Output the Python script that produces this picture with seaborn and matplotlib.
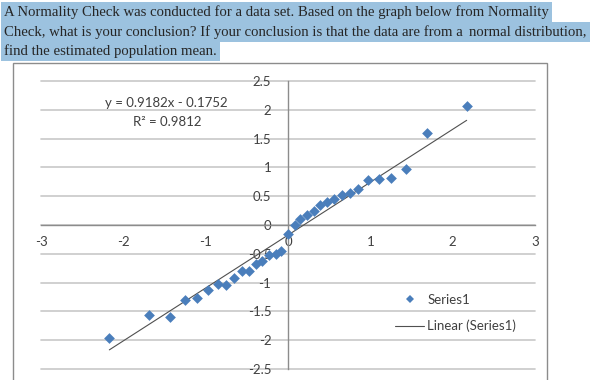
import numpy as np
import matplotlib
matplotlib.use("Agg")
import matplotlib.pyplot as plt
import seaborn as sns
from matplotlib.lines import Line2D
from matplotlib.patches import Rectangle

# normal scores (x) and standardised data (y)
z_scores = [-2.17, -1.69, -1.43, -1.25, -1.10, -0.97, -0.85, -0.75, -0.65, -0.56,
            -0.47, -0.39, -0.31, -0.23, -0.15, -0.08, 0.00,
            0.08, 0.15, 0.23, 0.31, 0.39, 0.47, 0.56, 0.65, 0.75, 0.85,
            0.97, 1.10, 1.25, 1.43, 1.69, 2.17]
values = [-1.97, -1.57, -1.59, -1.31, -1.27, -1.13, -1.03, -1.05, -0.92, -0.80,
          -0.80, -0.68, -0.63, -0.52, -0.50, -0.45, -0.15,
          0.00, 0.10, 0.17, 0.24, 0.35, 0.40, 0.46, 0.52, 0.56, 0.63,
          0.78, 0.80, 0.82, 0.98, 1.59, 2.07]
slope = 0.9182
intercept = -0.1752
r_squared = 0.9812
x_ticks = [-3, -2, -1, 0, 1, 2, 3]
y_ticks = [-2.5, -2, -1.5, -1, -0.5, 0, 0.5, 1, 1.5, 2, 2.5]

question = ["A Normality Check was conducted for a data set. Based on the graph below from Normality",
            "Check, what is your conclusion? If your conclusion is that the data are from a",
            "normal distribution,",
            "find the estimated population mean."]

sns.set_style("white")
plt.rcParams["font.family"] = ["Lato", "DejaVu Sans"]

blue = "#4a7ebb"
hl = "#9cc2df"
txt_grey = "#404040"

fig = plt.figure(figsize=(5.94, 3.80), dpi=100)
fy = lambda py: 1 - py / 380

# chart frame
fig.patches.append(Rectangle((13 / 594, -0.1), (547 - 13) / 594, fy(63) + 0.1,
                             transform=fig.transFigure, facecolor="none",
                             edgecolor="#8c8c8c", linewidth=1.0))

ax = fig.add_axes([41 / 594, 11 / 380, 494 / 594, 288 / 380])
ax.set_xlim(-3, 3)
ax.set_ylim(-2.5, 2.5)

# question text with highlight
serif = ["Liberation Serif", "DejaVu Serif"]
hbox = dict(facecolor=hl, edgecolor="none", pad=2.4)
fig.text(4 / 594, fy(12), question[0], family=serif, fontsize=10.6, va="center", bbox=hbox)
t2 = fig.text(4 / 594, fy(32), question[1], family=serif, fontsize=10.6, va="center", bbox=hbox)
fig.text(4 / 594, fy(51), question[3], family=serif, fontsize=10.6, va="center", bbox=hbox)
ax.annotate(question[2], xy=(1, 0.5), xycoords=t2, xytext=(4.6, 0), textcoords="offset points",
            family=serif, fontsize=10.6, va="center", ha="left", bbox=hbox,
            annotation_clip=False)

for yv in y_ticks:
    ax.axhline(yv, color="#c8c8c8", linewidth=1.2, zorder=0, clip_on=False)

xs = np.array([min(z_scores), max(z_scores)])
sns.lineplot(x=xs, y=slope * xs + intercept, ax=ax, color="#505050", linewidth=0.8,
             zorder=3, label="Linear (Series1)")
sns.scatterplot(x=z_scores, y=values, ax=ax, marker="D", s=30, color=blue,
                linewidth=0, zorder=4, label="Series1")

for s in ["top", "right"]:
    ax.spines[s].set_visible(False)
ax.spines["left"].set_position(("data", 0))
ax.spines["bottom"].set_position(("data", 0))
for s in ["left", "bottom"]:
    ax.spines[s].set_color("#8c8c8c")
    ax.spines[s].set_linewidth(1.0)

ax.set_xticks(x_ticks)
ax.set_xticklabels([str(v) for v in x_ticks])
ax.set_yticks(y_ticks)
ax.set_yticklabels([("%g" % v) for v in y_ticks])
ax.tick_params(axis="both", direction="out", length=4, width=1, color="#8c8c8c",
               labelsize=9.5, labelcolor=txt_grey)
ax.tick_params(axis="x", pad=4)
ax.tick_params(axis="y", pad=8)
ax.set_xlabel("")
ax.set_ylabel("")

ax.text(166 / 594, fy(103), "y = %.4fx - %.4f" % (slope, -intercept), transform=fig.transFigure,
        ha="center", va="center", fontsize=9.5, color=txt_grey)
ax.text(167 / 594, fy(122), "R² = %.4f" % r_squared, transform=fig.transFigure,
        ha="center", va="center", fontsize=9.5, color=txt_grey)

handles = [Line2D([], [], marker="D", linestyle="none", color=blue, markersize=4.5, markeredgewidth=0),
           Line2D([], [], color="#505050", linewidth=0.8)]
ax.legend(handles, ["Series1", "Linear (Series1)"], loc="upper left",
          bbox_to_anchor=(395 / 594, fy(294)), bbox_transform=fig.transFigure,
          frameon=False, borderpad=0, borderaxespad=0, handlelength=2.2,
          handletextpad=0.25, labelspacing=1.05, fontsize=9.5, labelcolor=txt_grey)

fig.savefig("out.png", dpi=100, facecolor="white")
